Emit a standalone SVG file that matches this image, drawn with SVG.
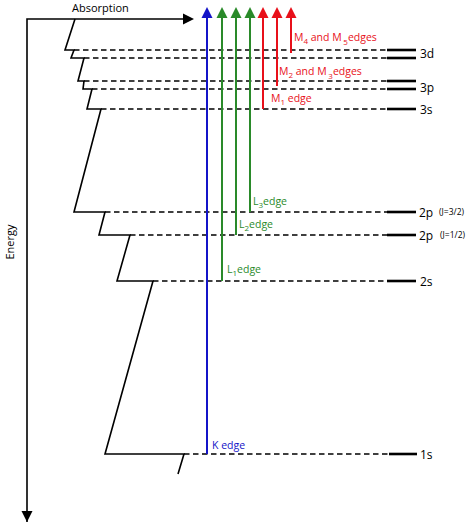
<svg xmlns="http://www.w3.org/2000/svg" width="474" height="526" viewBox="0 0 474 526">
<style>
text{font-family:"Open Sans","Noto Sans","Liberation Sans",sans-serif;font-size:11px}
.axis{stroke:#000;stroke-width:1.6;fill:none}
.saw{stroke:#000;stroke-width:1.6;fill:none;stroke-linejoin:miter}
.dash{stroke:#000;stroke-width:1.3;stroke-dasharray:5.5,3.5;fill:none}
.lvl{stroke:#000;stroke-width:2.6}
.lab{font-size:12px;fill:#000}
.small{font-size:8.5px}
.sub{font-size:8px}
.el{font-size:10.5px}
.b{stroke:#1414c8;stroke-width:2}
.g{stroke:#2a8a2a;stroke-width:2}
.r{stroke:#e8101a;stroke-width:2}
</style>
<rect width="474" height="526" fill="#fff"/>
<g id="axes">
<polyline class="axis" points="27,522 27,19 186,19"/>
<polygon points="194,19 183,13.5 183,24.5" fill="#000"/>
<polygon points="27,522 21.5,511 32.5,511" fill="#000"/>
<text x="72" y="12">Absorption</text>
<text transform="translate(14,242) rotate(-90)" text-anchor="middle">Energy</text>
</g>
<g id="sawtooth">
<polyline class="saw" points="75,19 65,50 74,50 71,58 84,58 78,81 84,81 83,89 92,89 87,109 101,109 74,212 105,212 99,235 130,235 117,281 153,281 105,454 184,454 178,474"/>
</g>
<g id="level-3d">
<line class="dash" x1="74" y1="50" x2="388" y2="50"/>
<line class="dash" x1="84" y1="58" x2="388" y2="58"/>
<line class="lvl" x1="387" y1="50" x2="416" y2="50"/>
<line class="lvl" x1="387" y1="58" x2="416" y2="58"/>
<text class="lab" x="420" y="58">3d</text>
</g>
<g id="level-3p">
<line class="dash" x1="84" y1="81" x2="388" y2="81"/>
<line class="dash" x1="92" y1="89" x2="388" y2="89"/>
<line class="lvl" x1="387" y1="81" x2="416" y2="81"/>
<line class="lvl" x1="387" y1="89" x2="416" y2="89"/>
<text class="lab" x="420" y="92">3p</text>
</g>
<g id="level-3s">
<line class="dash" x1="101" y1="109" x2="388" y2="109"/>
<line class="lvl" x1="387" y1="109" x2="416" y2="109"/>
<text class="lab" x="420" y="114">3s</text>
</g>
<g id="level-2p32">
<line class="dash" x1="105" y1="212" x2="388" y2="212"/>
<line class="lvl" x1="387" y1="212" x2="416" y2="212"/>
<text class="lab" x="419" y="217">2p</text>
<text class="small" x="439" y="215">(J=3/2)</text>
</g>
<g id="level-2p12">
<line class="dash" x1="130" y1="235" x2="388" y2="235"/>
<line class="lvl" x1="387" y1="235" x2="416" y2="235"/>
<text class="lab" x="419" y="240">2p</text>
<text class="small" x="440" y="238">(J=1/2)</text>
</g>
<g id="level-2s">
<line class="dash" x1="153" y1="281" x2="388" y2="281"/>
<line class="lvl" x1="387" y1="281" x2="416" y2="281"/>
<text class="lab" x="420" y="286">2s</text>
</g>
<g id="level-1s">
<line class="dash" x1="184" y1="454" x2="390" y2="454"/>
<line class="lvl" x1="389" y1="454" x2="417" y2="454"/>
<text class="lab" x="420" y="459">1s</text>
</g>
<g id="connectors">
<line class="b" x1="207" y1="454" x2="207" y2="16"/>
<polygon points="207,7 201.5,18 212.5,18" fill="#1414c8"/>
<line class="g" x1="222" y1="281" x2="222" y2="16"/>
<polygon points="222,7 216.5,18 227.5,18" fill="#2a8a2a"/>
<line class="g" x1="236" y1="235" x2="236" y2="16"/>
<polygon points="236,7 230.5,18 241.5,18" fill="#2a8a2a"/>
<line class="g" x1="250" y1="212" x2="250" y2="16"/>
<polygon points="250,7 244.5,18 255.5,18" fill="#2a8a2a"/>
<line class="r" x1="263" y1="109" x2="263" y2="16"/>
<polygon points="263,7 257.5,18 268.5,18" fill="#e8101a"/>
<line class="r" x1="277" y1="86" x2="277" y2="16"/>
<polygon points="277,7 271.5,18 282.5,18" fill="#e8101a"/>
<line class="r" x1="291" y1="53" x2="291" y2="16"/>
<polygon points="291,7 285.5,18 296.5,18" fill="#e8101a"/>
</g>
<g id="edge-labels">
<text class="el" x="294" y="41" fill="#e8101a">M<tspan class="sub" dy="3">4</tspan><tspan dy="-3"> and M </tspan><tspan class="sub" dx="-1" dy="4">5</tspan><tspan dy="-4">edges</tspan></text>
<text class="el" x="279" y="75" fill="#e8101a">M<tspan class="sub" dy="3">2</tspan><tspan dy="-3"> and M </tspan><tspan class="sub" dx="-1" dy="4">3</tspan><tspan dy="-4">edges</tspan></text>
<text class="el" x="271" y="102" fill="#e8101a">M<tspan class="sub" dy="3">1</tspan><tspan dy="-3"> edge</tspan></text>
<text class="el" x="253" y="205" fill="#2a8a2a">L<tspan class="sub" dy="3">3</tspan><tspan dy="-3">edge</tspan></text>
<text class="el" x="239" y="228" fill="#2a8a2a">L<tspan class="sub" dy="3">2</tspan><tspan dy="-3">edge</tspan></text>
<text class="el" x="227" y="273" fill="#2a8a2a">L<tspan class="sub" dy="3">1</tspan><tspan dy="-3">edge</tspan></text>
<text class="el" x="212" y="449" fill="#1414c8">K edge</text>
</g>
</svg>
